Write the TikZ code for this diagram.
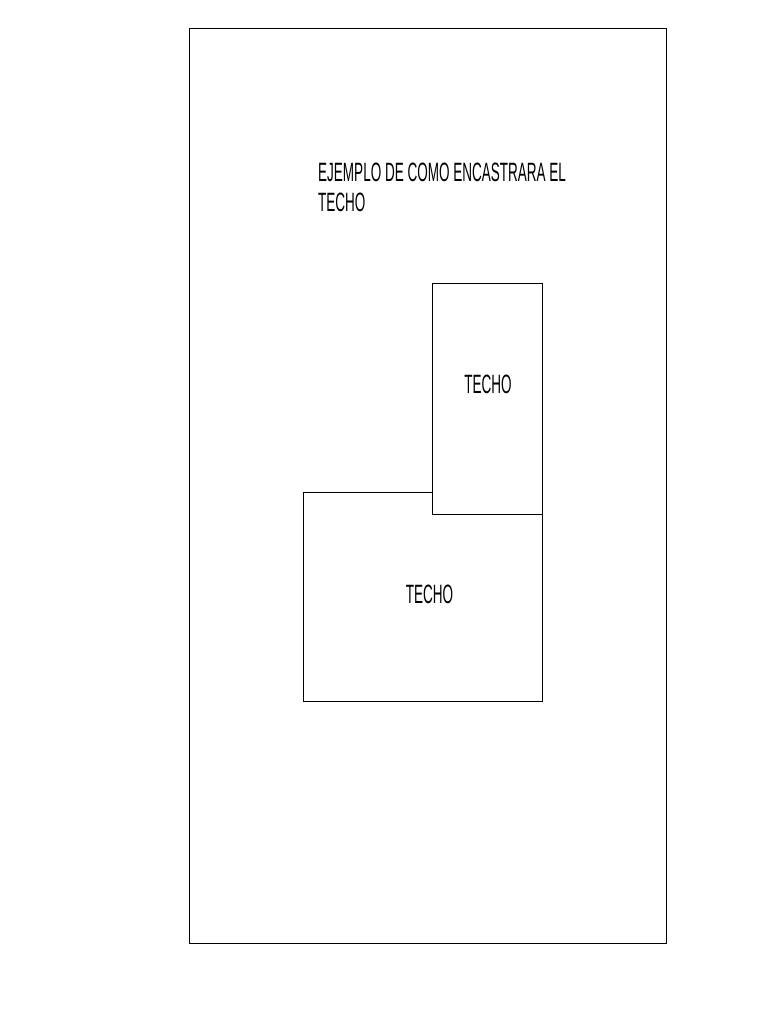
\documentclass[tikz,border=0pt]{standalone}
\usepackage{fontspec}
\setmainfont{Liberation Sans}[FakeStretch=0.51]
\begin{document}
\begin{tikzpicture}[x=1pt,y=-1pt,
  box/.style={draw=black,line width=1pt,fill=white,inner sep=0pt,rectangle},
  lbl/.style={font=\fontsize{26.5}{29.5}\selectfont,inner sep=0pt,text=black}]
\useasboundingbox (0,0) rectangle (768,1024);
\fill[white] (0,0) rectangle (768,1024);
% outer frame
\node[box,fill=none,anchor=north west,minimum width=477pt,minimum height=914.5pt] (frame) at (188.5,28.5) {};
% lower roof
\node[box,anchor=north west,minimum width=239pt,minimum height=208.4pt] (lower) at (302.5,492.3) {};
% upper roof
\node[box,anchor=north west,minimum width=109.5pt,minimum height=231.2pt] (upper) at (432,282.5) {};
\node[lbl] (tu) at (488,384.7) {TECHO};
\node[lbl] (tl) at (429.5,594.2) {TECHO};
\node[lbl,anchor=base west,align=left] (title) at (318,211.2) {EJEMPLO DE COMO ENCASTRARA EL\\TECHO};
\end{tikzpicture}
\end{document}
